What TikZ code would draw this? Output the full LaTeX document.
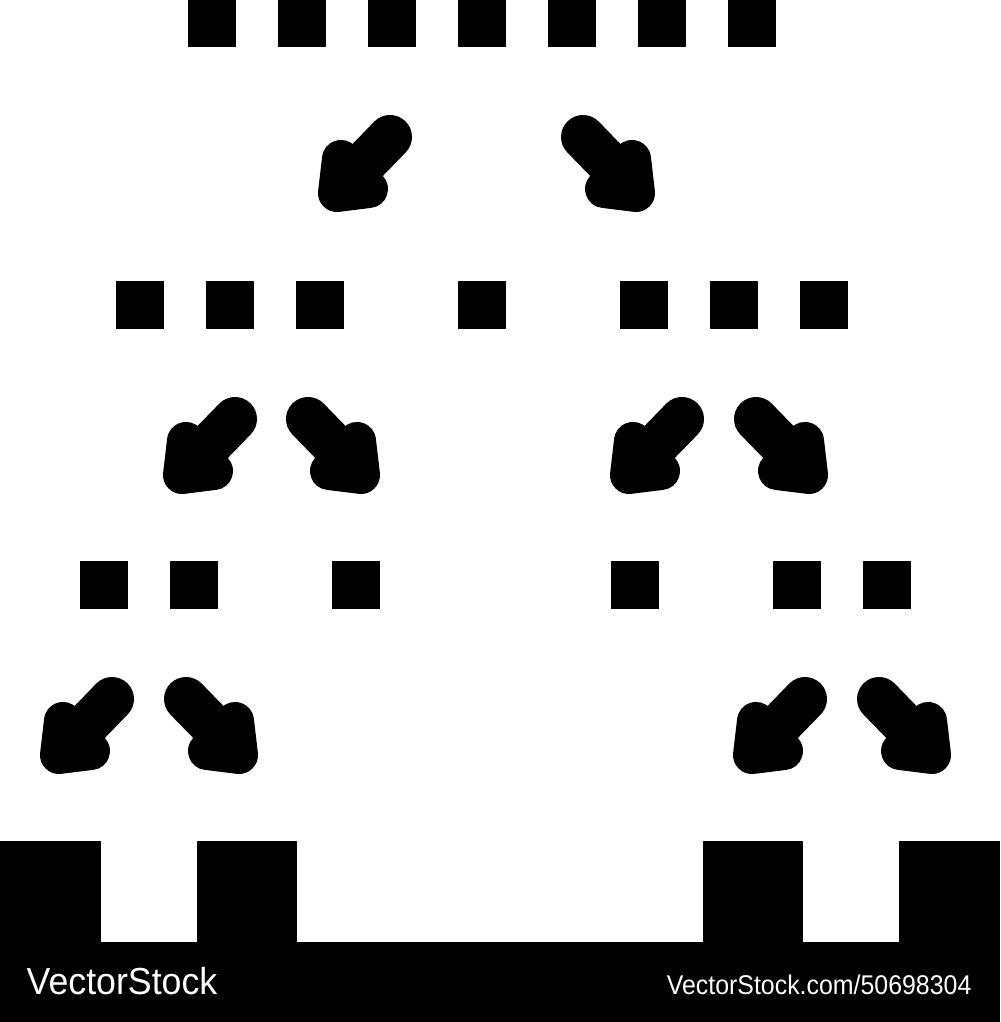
\documentclass[tikz,border=0pt]{standalone}
\usepackage{fontspec}
\setmainfont{Liberation Sans}
\tikzset{
  dlarrow/.pic={
    \draw[line width=4.4mm, line cap=round] (72,22) -- (38,57);
    \filldraw[line width=3.8mm, line join=round] (23,44) -- (19,78) -- (51,74) -- cycle;
  },
  sqr/.style={fill=black},
  wm/.style={text=white, inner sep=0pt},
}
\begin{document}
\begin{tikzpicture}[x=0.1mm,y=-0.1mm]
\useasboundingbox (0,0) rectangle (1000,1022);
\fill[white] (0,0) rectangle (1000,1022);
% row 1 squares
\foreach \x in {188,278,368,458,548,638,728} \fill[sqr] (\x,0) rectangle ++(48,47);
% row 2 squares
\foreach \x in {116,206,296,458,620,710,800} \fill[sqr] (\x,281) rectangle ++(48,48);
% row 3 squares
\foreach \x in {80,170,332,611,773,863} \fill[sqr] (\x,561) rectangle ++(48,48);
% arrows row 1
\pic at (318,115) {dlarrow};
\pic[xscale=-1] at (655,115) {dlarrow};
% arrows row 2
\pic at (163,397) {dlarrow};
\pic[xscale=-1] at (380,397) {dlarrow};
\pic at (610,397) {dlarrow};
\pic[xscale=-1] at (828,397) {dlarrow};
% arrows row 3
\pic at (40,677) {dlarrow};
\pic[xscale=-1] at (258,677) {dlarrow};
\pic at (733,677) {dlarrow};
\pic[xscale=-1] at (951,677) {dlarrow};
% bottom band
\fill (0,942) rectangle (1000,1022);
\fill (0,841) rectangle (101,942);
\fill (197,841) rectangle (297,942);
\fill (703,841) rectangle (803,942);
\fill (899,841) rectangle (1000,942);
% watermark texts
\node[wm, anchor=base west, font=\fontsize{10.7}{12}\selectfont, xscale=0.95] (vsl) at (26,994) {VectorStock};
\node[wm, anchor=base east, font=\fontsize{7.7}{9}\selectfont, xscale=0.92] (vsr) at (972,994) {VectorStock.com/50698304};
\end{tikzpicture}
\end{document}
